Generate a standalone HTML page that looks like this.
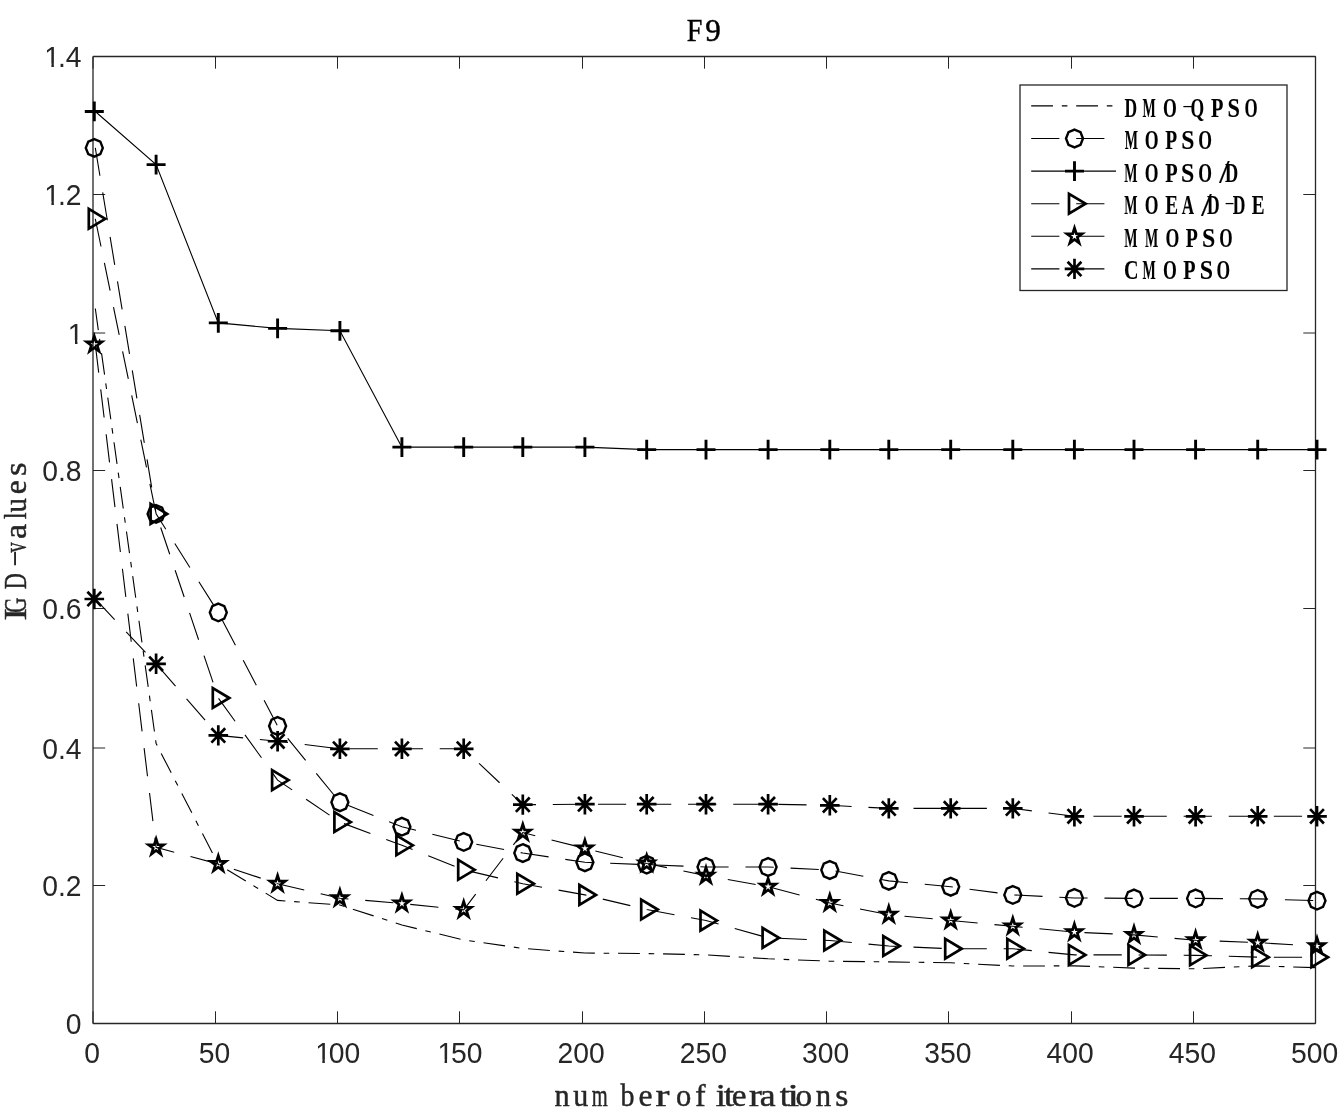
<!DOCTYPE html>
<html><head><meta charset="utf-8"><style>html,body{margin:0;padding:0;background:#fff;overflow:hidden}svg{display:block}</style></head><body>
<svg width="1344" height="1118" viewBox="0 0 1344 1118">
<rect x="0" y="0" width="1344" height="1118" fill="#fff"/>
<g fill="none" stroke="#262626" stroke-width="1.3">
<path d="M93.0 1023.5H1315.5M93.0 56.5H1315.5"/>
<path d="M93.0 1023.5V56.5M1315.5 1023.5V56.5"/>
</g>
<path d="M93.00 1023.5V1011.30M93.00 56.5V68.70M215.50 1023.5V1011.30M215.50 56.5V68.70M337.50 1023.5V1011.30M337.50 56.5V68.70M459.50 1023.5V1011.30M459.50 56.5V68.70M582.50 1023.5V1011.30M582.50 56.5V68.70M704.50 1023.5V1011.30M704.50 56.5V68.70M826.50 1023.5V1011.30M826.50 56.5V68.70M948.50 1023.5V1011.30M948.50 56.5V68.70M1071.50 1023.5V1011.30M1071.50 56.5V68.70M1193.50 1023.5V1011.30M1193.50 56.5V68.70M1315.50 1023.5V1011.30M1315.50 56.5V68.70M93.0 1023.50H105.20M1315.5 1023.50H1303.30M93.0 885.50H105.20M1315.5 885.50H1303.30M93.0 748.00H105.20M1315.5 748.00H1303.30M93.0 608.50H105.20M1315.5 608.50H1303.30M93.0 470.50H105.20M1315.5 470.50H1303.30M93.0 333.00H105.20M1315.5 333.00H1303.30M93.0 194.50H105.20M1315.5 194.50H1303.30M93.0 56.50H105.20M1315.5 56.50H1303.30" fill="none" stroke="#262626" stroke-width="1"/>
<g font-family="Liberation Sans, Arial, sans-serif" font-size="28.3" fill="#262626">
<text x="84.33" y="0" transform="translate(0,1062.80) scale(1,1.045)">0</text>
<text x="198.71 214.45" y="0" transform="translate(0,1062.80) scale(1,1.045)">50</text>
<clipPath id="t1"><rect x="308.09" y="1022.80" width="57.22" height="36.59"/><rect x="322.31" y="1058.39" width="2.50" height="4.91"/><rect x="308.09" y="1058.39" width="8.46" height="11.41"/><rect x="330.35" y="1058.39" width="34.96" height="11.41"/></clipPath><g clip-path="url(#t1)"><text x="315.19 328.83 344.57" y="0" transform="translate(0,1062.80) scale(1,1.045)">100</text></g>
<clipPath id="t2"><rect x="430.34" y="1022.80" width="57.22" height="36.59"/><rect x="444.56" y="1058.39" width="2.50" height="4.91"/><rect x="430.34" y="1058.39" width="8.46" height="11.41"/><rect x="452.60" y="1058.39" width="34.96" height="11.41"/></clipPath><g clip-path="url(#t2)"><text x="437.44 451.08 466.82" y="0" transform="translate(0,1062.80) scale(1,1.045)">150</text></g>
<text x="557.59 573.33 589.07" y="0" transform="translate(0,1062.80) scale(1,1.045)">200</text>
<text x="679.84 695.58 711.32" y="0" transform="translate(0,1062.80) scale(1,1.045)">250</text>
<text x="802.09 817.83 833.57" y="0" transform="translate(0,1062.80) scale(1,1.045)">300</text>
<text x="924.34 940.08 955.82" y="0" transform="translate(0,1062.80) scale(1,1.045)">350</text>
<text x="1046.59 1062.33 1078.07" y="0" transform="translate(0,1062.80) scale(1,1.045)">400</text>
<text x="1168.84 1184.58 1200.32" y="0" transform="translate(0,1062.80) scale(1,1.045)">450</text>
<text x="1291.09 1306.83 1322.57" y="0" transform="translate(0,1062.80) scale(1,1.045)">500</text>
<text x="65.76" y="0" transform="translate(0,1034.00) scale(1,1.045)">0</text>
<text x="42.16 57.90 65.76" y="0" transform="translate(0,896.00) scale(1,1.045)">0.2</text>
<text x="42.16 57.90 65.76" y="0" transform="translate(0,758.50) scale(1,1.045)">0.4</text>
<text x="42.16 57.90 65.76" y="0" transform="translate(0,619.00) scale(1,1.045)">0.6</text>
<text x="42.16 57.90 65.76" y="0" transform="translate(0,481.00) scale(1,1.045)">0.8</text>
<clipPath id="t3"><rect x="60.76" y="303.50" width="25.74" height="36.59"/><rect x="74.98" y="339.09" width="2.50" height="4.91"/><rect x="60.76" y="339.09" width="8.46" height="11.41"/><rect x="83.02" y="339.09" width="3.48" height="11.41"/></clipPath><g clip-path="url(#t3)"><text x="67.86" y="0" transform="translate(0,343.50) scale(1,1.045)">1</text></g>
<clipPath id="t4"><rect x="37.16" y="165.00" width="49.34" height="36.59"/><rect x="51.38" y="200.59" width="2.50" height="4.91"/><rect x="37.16" y="200.59" width="8.46" height="11.41"/><rect x="59.42" y="200.59" width="27.08" height="11.41"/></clipPath><g clip-path="url(#t4)"><text x="44.26 57.90 65.76" y="0" transform="translate(0,205.00) scale(1,1.045)">1.2</text></g>
<clipPath id="t5"><rect x="37.16" y="27.00" width="49.34" height="36.59"/><rect x="51.38" y="62.59" width="2.50" height="4.91"/><rect x="37.16" y="62.59" width="8.46" height="11.41"/><rect x="59.42" y="62.59" width="27.08" height="11.41"/></clipPath><g clip-path="url(#t5)"><text x="44.26 57.90 65.76" y="0" transform="translate(0,67.00) scale(1,1.045)">1.4</text></g>
</g>
<clipPath id="c"><rect x="93.0" y="56.5" width="1222.5" height="967.0"/></clipPath>
<g clip-path="url(#c)" fill="none" stroke="#000" stroke-linejoin="miter">
<polyline points="95.30,308.47 156.10,743.48 218.30,864.29 277.60,900.41 339.90,904.97 401.90,925.00 463.70,939.99 522.80,948.42 584.90,953.05 646.70,953.53 706.00,954.91 768.10,958.78 829.80,961.20 888.80,961.89 950.70,962.79 1012.80,966.03 1074.40,965.83 1134.00,968.10 1195.60,968.80 1257.70,965.83 1317.00,967.69" stroke-width="1.1" stroke-dasharray="21.819 8.808 5.605 8.808"/>
<polyline points="95.30,147.88 156.10,513.89 218.30,612.46 277.60,726.01 339.90,802.26 401.90,826.72 463.70,841.91 522.80,853.03 584.90,862.29 646.70,864.70 706.00,866.98 768.10,866.98 829.80,870.02 888.80,880.87 950.70,886.74 1012.80,894.89 1074.40,897.93 1134.00,898.41 1195.60,898.41 1257.70,898.83 1317.00,900.69" stroke-width="1.1" stroke-dasharray="28.275 16.845"/>
<polyline points="95.30,111.48 156.10,164.67 218.30,322.91 277.60,328.37 339.90,330.78 401.90,447.17 463.70,447.17 522.80,447.17 584.90,447.17 646.70,449.59 706.00,449.59 768.10,449.59 829.80,449.59 888.80,449.59 950.70,449.59 1012.80,449.59 1074.40,449.59 1134.00,449.59 1195.60,449.59 1257.70,449.59 1317.00,449.59" stroke-width="1.1"/>
<polyline points="95.30,218.82 156.10,513.89 218.30,697.97 277.60,780.09 339.90,822.09 401.90,845.30 463.70,869.82 522.80,883.70 584.90,894.89 646.70,909.53 706.00,920.58 768.10,937.85 829.80,940.48 888.80,946.00 950.70,948.76 1012.80,948.76 1074.40,954.91 1134.00,954.91 1195.60,955.33 1257.70,957.19 1317.00,957.19" stroke-width="1.1" stroke-dasharray="28.256 16.834"/>
<polyline points="95.30,344.53 156.10,847.30 218.30,864.01 277.60,883.77 339.90,898.27 401.90,903.52 463.70,909.81 522.80,832.59 584.90,848.40 646.70,863.53 706.00,875.62 768.10,886.74 829.80,902.97 888.80,914.71 950.70,920.51 1012.80,926.32 1074.40,932.12 1134.00,934.88 1195.60,940.20 1257.70,942.62 1317.00,946.14" stroke-width="1.1" stroke-dasharray="28.307 16.863"/>
<polyline points="95.30,598.99 156.10,663.78 218.30,735.40 277.60,741.27 339.90,748.80 401.90,748.80 463.70,748.80 522.80,804.68 584.90,804.20 646.70,804.20 706.00,804.20 768.10,804.20 829.80,805.30 888.80,808.41 950.70,808.41 1012.80,808.41 1074.40,816.29 1134.00,816.29 1195.60,816.29 1257.70,816.29 1317.00,816.29" stroke-width="1.1" stroke-dasharray="28.263 16.837"/>
</g>
<g fill="none" stroke="#000" stroke-width="2.4">
<polygon points="94.30,139.04 100.31,141.63 102.80,147.88 100.31,154.13 94.30,156.72 88.29,154.13 85.80,147.88 88.29,141.63"/>
<polygon points="156.10,505.05 162.11,507.64 164.60,513.89 162.11,520.14 156.10,522.73 150.09,520.14 147.60,513.89 150.09,507.64"/>
<polygon points="218.30,603.62 224.31,606.21 226.80,612.46 224.31,618.71 218.30,621.30 212.29,618.71 209.80,612.46 212.29,606.21"/>
<polygon points="277.60,717.17 283.61,719.76 286.10,726.01 283.61,732.26 277.60,734.85 271.59,732.26 269.10,726.01 271.59,719.76"/>
<polygon points="339.90,793.42 345.91,796.01 348.40,802.26 345.91,808.52 339.90,811.10 333.89,808.52 331.40,802.26 333.89,796.01"/>
<polygon points="401.90,817.88 407.91,820.46 410.40,826.72 407.91,832.97 401.90,835.56 395.89,832.97 393.40,826.72 395.89,820.46"/>
<polygon points="463.70,833.07 469.71,835.66 472.20,841.91 469.71,848.16 463.70,850.75 457.69,848.16 455.20,841.91 457.69,835.66"/>
<polygon points="522.80,844.19 528.81,846.78 531.30,853.03 528.81,859.28 522.80,861.87 516.79,859.28 514.30,853.03 516.79,846.78"/>
<polygon points="584.90,853.45 590.91,856.04 593.40,862.29 590.91,868.54 584.90,871.13 578.89,868.54 576.40,862.29 578.89,856.04"/>
<polygon points="646.70,855.86 652.71,858.45 655.20,864.70 652.71,870.96 646.70,873.54 640.69,870.96 638.20,864.70 640.69,858.45"/>
<polygon points="706.00,858.14 712.01,860.73 714.50,866.98 712.01,873.23 706.00,875.82 699.99,873.23 697.50,866.98 699.99,860.73"/>
<polygon points="768.10,858.14 774.11,860.73 776.60,866.98 774.11,873.23 768.10,875.82 762.09,873.23 759.60,866.98 762.09,860.73"/>
<polygon points="829.80,861.18 835.81,863.77 838.30,870.02 835.81,876.27 829.80,878.86 823.79,876.27 821.30,870.02 823.79,863.77"/>
<polygon points="888.80,872.03 894.81,874.62 897.30,880.87 894.81,887.12 888.80,889.71 882.79,887.12 880.30,880.87 882.79,874.62"/>
<polygon points="950.70,877.90 956.71,880.49 959.20,886.74 956.71,892.99 950.70,895.58 944.69,892.99 942.20,886.74 944.69,880.49"/>
<polygon points="1012.80,886.05 1018.81,888.64 1021.30,894.89 1018.81,901.14 1012.80,903.73 1006.79,901.14 1004.30,894.89 1006.79,888.64"/>
<polygon points="1074.40,889.09 1080.41,891.68 1082.90,897.93 1080.41,904.18 1074.40,906.77 1068.39,904.18 1065.90,897.93 1068.39,891.68"/>
<polygon points="1134.00,889.57 1140.01,892.16 1142.50,898.41 1140.01,904.66 1134.00,907.25 1127.99,904.66 1125.50,898.41 1127.99,892.16"/>
<polygon points="1195.60,889.57 1201.61,892.16 1204.10,898.41 1201.61,904.66 1195.60,907.25 1189.59,904.66 1187.10,898.41 1189.59,892.16"/>
<polygon points="1257.70,889.99 1263.71,892.58 1266.20,898.83 1263.71,905.08 1257.70,907.67 1251.69,905.08 1249.20,898.83 1251.69,892.58"/>
<polygon points="1317.00,891.85 1323.01,894.44 1325.50,900.69 1323.01,906.94 1317.00,909.53 1310.99,906.94 1308.50,900.69 1310.99,894.44"/>
<path stroke-width="2.9" d="M84.80 111.48H103.80M94.30 101.60V121.36"/>
<path stroke-width="2.9" d="M146.60 164.67H165.60M156.10 154.79V174.55"/>
<path stroke-width="2.9" d="M208.80 322.91H227.80M218.30 313.03V332.79"/>
<path stroke-width="2.9" d="M268.10 328.37H287.10M277.60 318.49V338.25"/>
<path stroke-width="2.9" d="M330.40 330.78H349.40M339.90 320.90V340.66"/>
<path stroke-width="2.9" d="M392.40 447.17H411.40M401.90 437.29V457.05"/>
<path stroke-width="2.9" d="M454.20 447.17H473.20M463.70 437.29V457.05"/>
<path stroke-width="2.9" d="M513.30 447.17H532.30M522.80 437.29V457.05"/>
<path stroke-width="2.9" d="M575.40 447.17H594.40M584.90 437.29V457.05"/>
<path stroke-width="2.9" d="M637.20 449.59H656.20M646.70 439.71V459.47"/>
<path stroke-width="2.9" d="M696.50 449.59H715.50M706.00 439.71V459.47"/>
<path stroke-width="2.9" d="M758.60 449.59H777.60M768.10 439.71V459.47"/>
<path stroke-width="2.9" d="M820.30 449.59H839.30M829.80 439.71V459.47"/>
<path stroke-width="2.9" d="M879.30 449.59H898.30M888.80 439.71V459.47"/>
<path stroke-width="2.9" d="M941.20 449.59H960.20M950.70 439.71V459.47"/>
<path stroke-width="2.9" d="M1003.30 449.59H1022.30M1012.80 439.71V459.47"/>
<path stroke-width="2.9" d="M1064.90 449.59H1083.90M1074.40 439.71V459.47"/>
<path stroke-width="2.9" d="M1124.50 449.59H1143.50M1134.00 439.71V459.47"/>
<path stroke-width="2.9" d="M1186.10 449.59H1205.10M1195.60 439.71V459.47"/>
<path stroke-width="2.9" d="M1248.20 449.59H1267.20M1257.70 439.71V459.47"/>
<path stroke-width="2.9" d="M1307.50 449.59H1326.50M1317.00 439.71V459.47"/>
<polygon stroke-width="2.6999999999999997" points="105.30,218.82 88.80,208.91 88.80,228.72"/>
<polygon stroke-width="2.6999999999999997" points="167.10,513.89 150.60,503.98 150.60,523.80"/>
<polygon stroke-width="2.6999999999999997" points="229.30,697.97 212.80,688.06 212.80,707.87"/>
<polygon stroke-width="2.6999999999999997" points="288.60,780.09 272.10,770.19 272.10,790.00"/>
<polygon stroke-width="2.6999999999999997" points="350.90,822.09 334.40,812.18 334.40,831.99"/>
<polygon stroke-width="2.6999999999999997" points="412.90,845.30 396.40,835.39 396.40,855.20"/>
<polygon stroke-width="2.6999999999999997" points="474.70,869.82 458.20,859.91 458.20,879.72"/>
<polygon stroke-width="2.6999999999999997" points="533.80,883.70 517.30,873.79 517.30,893.61"/>
<polygon stroke-width="2.6999999999999997" points="595.90,894.89 579.40,884.98 579.40,904.80"/>
<polygon stroke-width="2.6999999999999997" points="657.70,909.53 641.20,899.63 641.20,919.44"/>
<polygon stroke-width="2.6999999999999997" points="717.00,920.58 700.50,910.68 700.50,930.49"/>
<polygon stroke-width="2.6999999999999997" points="779.10,937.85 762.60,927.94 762.60,947.76"/>
<polygon stroke-width="2.6999999999999997" points="840.80,940.48 824.30,930.57 824.30,950.38"/>
<polygon stroke-width="2.6999999999999997" points="899.80,946.00 883.30,936.09 883.30,955.91"/>
<polygon stroke-width="2.6999999999999997" points="961.70,948.76 945.20,938.86 945.20,958.67"/>
<polygon stroke-width="2.6999999999999997" points="1023.80,948.76 1007.30,938.86 1007.30,958.67"/>
<polygon stroke-width="2.6999999999999997" points="1085.40,954.91 1068.90,945.01 1068.90,964.82"/>
<polygon stroke-width="2.6999999999999997" points="1145.00,954.91 1128.50,945.01 1128.50,964.82"/>
<polygon stroke-width="2.6999999999999997" points="1206.60,955.33 1190.10,945.42 1190.10,965.23"/>
<polygon stroke-width="2.6999999999999997" points="1268.70,957.19 1252.20,947.28 1252.20,967.10"/>
<polygon stroke-width="2.6999999999999997" points="1328.00,957.19 1311.50,947.28 1311.50,967.10"/>
<polygon stroke-width="2.6999999999999997" points="94.30,336.21 96.10,341.96 101.91,341.96 97.21,345.51 99.00,351.26 94.30,347.71 89.60,351.26 91.39,345.51 86.69,341.96 92.50,341.96"/>
<polygon stroke-width="2.6999999999999997" points="156.10,838.98 157.90,844.73 163.71,844.73 159.01,848.28 160.80,854.03 156.10,850.48 151.40,854.03 153.19,848.28 148.49,844.73 154.30,844.73"/>
<polygon stroke-width="2.6999999999999997" points="218.30,855.69 220.10,861.44 225.91,861.44 221.21,865.00 223.00,870.75 218.30,867.19 213.60,870.75 215.39,865.00 210.69,861.44 216.50,861.44"/>
<polygon stroke-width="2.6999999999999997" points="277.60,875.45 279.40,881.20 285.21,881.20 280.51,884.75 282.30,890.50 277.60,886.95 272.90,890.50 274.69,884.75 269.99,881.20 275.80,881.20"/>
<polygon stroke-width="2.6999999999999997" points="339.90,889.95 341.70,895.70 347.51,895.70 342.81,899.26 344.60,905.00 339.90,901.45 335.20,905.00 336.99,899.26 332.29,895.70 338.10,895.70"/>
<polygon stroke-width="2.6999999999999997" points="401.90,895.20 403.70,900.95 409.51,900.95 404.81,904.51 406.60,910.25 401.90,906.70 397.20,910.25 398.99,904.51 394.29,900.95 400.10,900.95"/>
<polygon stroke-width="2.6999999999999997" points="463.70,901.49 465.50,907.24 471.31,907.24 466.61,910.79 468.40,916.54 463.70,912.99 459.00,916.54 460.79,910.79 456.09,907.24 461.90,907.24"/>
<polygon stroke-width="2.6999999999999997" points="522.80,824.27 524.60,830.02 530.41,830.02 525.71,833.57 527.50,839.32 522.80,835.76 518.10,839.32 519.89,833.57 515.19,830.02 521.00,830.02"/>
<polygon stroke-width="2.6999999999999997" points="584.90,840.08 586.70,845.83 592.51,845.83 587.81,849.39 589.60,855.13 584.90,851.58 580.20,855.13 581.99,849.39 577.29,845.83 583.10,845.83"/>
<polygon stroke-width="2.6999999999999997" points="646.70,855.21 648.50,860.96 654.31,860.96 649.61,864.51 651.40,870.26 646.70,866.71 642.00,870.26 643.79,864.51 639.09,860.96 644.90,860.96"/>
<polygon stroke-width="2.6999999999999997" points="706.00,867.30 707.80,873.05 713.61,873.05 708.91,876.60 710.70,882.35 706.00,878.80 701.30,882.35 703.09,876.60 698.39,873.05 704.20,873.05"/>
<polygon stroke-width="2.6999999999999997" points="768.10,878.42 769.90,884.17 775.71,884.17 771.01,887.72 772.80,893.47 768.10,889.92 763.40,893.47 765.19,887.72 760.49,884.17 766.30,884.17"/>
<polygon stroke-width="2.6999999999999997" points="829.80,894.65 831.60,900.40 837.41,900.40 832.71,903.95 834.50,909.70 829.80,906.15 825.10,909.70 826.89,903.95 822.19,900.40 828.00,900.40"/>
<polygon stroke-width="2.6999999999999997" points="888.80,906.39 890.60,912.14 896.41,912.14 891.71,915.69 893.50,921.44 888.80,917.89 884.10,921.44 885.89,915.69 881.19,912.14 887.00,912.14"/>
<polygon stroke-width="2.6999999999999997" points="950.70,912.19 952.50,917.94 958.31,917.94 953.61,921.50 955.40,927.25 950.70,923.69 946.00,927.25 947.79,921.50 943.09,917.94 948.90,917.94"/>
<polygon stroke-width="2.6999999999999997" points="1012.80,918.00 1014.60,923.75 1020.41,923.75 1015.71,927.30 1017.50,933.05 1012.80,929.49 1008.10,933.05 1009.89,927.30 1005.19,923.75 1011.00,923.75"/>
<polygon stroke-width="2.6999999999999997" points="1074.40,923.80 1076.20,929.55 1082.01,929.55 1077.31,933.10 1079.10,938.85 1074.40,935.30 1069.70,938.85 1071.49,933.10 1066.79,929.55 1072.60,929.55"/>
<polygon stroke-width="2.6999999999999997" points="1134.00,926.56 1135.80,932.31 1141.61,932.31 1136.91,935.86 1138.70,941.61 1134.00,938.06 1129.30,941.61 1131.09,935.86 1126.39,932.31 1132.20,932.31"/>
<polygon stroke-width="2.6999999999999997" points="1195.60,931.88 1197.40,937.63 1203.21,937.63 1198.51,941.18 1200.30,946.93 1195.60,943.38 1190.90,946.93 1192.69,941.18 1187.99,937.63 1193.80,937.63"/>
<polygon stroke-width="2.6999999999999997" points="1257.70,934.30 1259.50,940.05 1265.31,940.05 1260.61,943.60 1262.40,949.35 1257.70,945.80 1253.00,949.35 1254.79,943.60 1250.09,940.05 1255.90,940.05"/>
<polygon stroke-width="2.6999999999999997" points="1317.00,937.82 1318.80,943.57 1324.61,943.57 1319.91,947.12 1321.70,952.87 1317.00,949.32 1312.30,952.87 1314.09,947.12 1309.39,943.57 1315.20,943.57"/>
<path stroke-width="2.6999999999999997" d="M84.50 598.99H104.10M94.30 588.79V609.18M87.40 591.81L101.20 606.16M87.40 606.16L101.20 591.81"/>
<path stroke-width="2.6999999999999997" d="M146.30 663.78H165.90M156.10 653.58V673.97M149.20 656.60L163.00 670.95M149.20 670.95L163.00 656.60"/>
<path stroke-width="2.6999999999999997" d="M208.50 735.40H228.10M218.30 725.21V745.60M211.40 728.23L225.20 742.58M211.40 742.58L225.20 728.23"/>
<path stroke-width="2.6999999999999997" d="M267.80 741.27H287.40M277.60 731.08V751.47M270.70 734.10L284.50 748.45M270.70 748.45L284.50 734.10"/>
<path stroke-width="2.6999999999999997" d="M330.10 748.80H349.70M339.90 738.61V758.99M333.00 741.63L346.80 755.98M333.00 755.98L346.80 741.63"/>
<path stroke-width="2.6999999999999997" d="M392.10 748.80H411.70M401.90 738.61V758.99M395.00 741.63L408.80 755.98M395.00 755.98L408.80 741.63"/>
<path stroke-width="2.6999999999999997" d="M453.90 748.80H473.50M463.70 738.61V758.99M456.80 741.63L470.60 755.98M456.80 755.98L470.60 741.63"/>
<path stroke-width="2.6999999999999997" d="M513.00 804.68H532.60M522.80 794.49V814.87M515.90 797.51L529.70 811.86M515.90 811.86L529.70 797.51"/>
<path stroke-width="2.6999999999999997" d="M575.10 804.20H594.70M584.90 794.01V814.39M578.00 797.02L591.80 811.37M578.00 811.37L591.80 797.02"/>
<path stroke-width="2.6999999999999997" d="M636.90 804.20H656.50M646.70 794.01V814.39M639.80 797.02L653.60 811.37M639.80 811.37L653.60 797.02"/>
<path stroke-width="2.6999999999999997" d="M696.20 804.20H715.80M706.00 794.01V814.39M699.10 797.02L712.90 811.37M699.10 811.37L712.90 797.02"/>
<path stroke-width="2.6999999999999997" d="M758.30 804.20H777.90M768.10 794.01V814.39M761.20 797.02L775.00 811.37M761.20 811.37L775.00 797.02"/>
<path stroke-width="2.6999999999999997" d="M820.00 805.30H839.60M829.80 795.11V815.50M822.90 798.13L836.70 812.48M822.90 812.48L836.70 798.13"/>
<path stroke-width="2.6999999999999997" d="M879.00 808.41H898.60M888.80 798.22V818.60M881.90 801.24L895.70 815.59M881.90 815.59L895.70 801.24"/>
<path stroke-width="2.6999999999999997" d="M940.90 808.41H960.50M950.70 798.22V818.60M943.80 801.24L957.60 815.59M943.80 815.59L957.60 801.24"/>
<path stroke-width="2.6999999999999997" d="M1003.00 808.41H1022.60M1012.80 798.22V818.60M1005.90 801.24L1019.70 815.59M1005.90 815.59L1019.70 801.24"/>
<path stroke-width="2.6999999999999997" d="M1064.60 816.29H1084.20M1074.40 806.09V826.48M1067.50 809.11L1081.30 823.46M1067.50 823.46L1081.30 809.11"/>
<path stroke-width="2.6999999999999997" d="M1124.20 816.29H1143.80M1134.00 806.09V826.48M1127.10 809.11L1140.90 823.46M1127.10 823.46L1140.90 809.11"/>
<path stroke-width="2.6999999999999997" d="M1185.80 816.29H1205.40M1195.60 806.09V826.48M1188.70 809.11L1202.50 823.46M1188.70 823.46L1202.50 809.11"/>
<path stroke-width="2.6999999999999997" d="M1247.90 816.29H1267.50M1257.70 806.09V826.48M1250.80 809.11L1264.60 823.46M1250.80 823.46L1264.60 809.11"/>
<path stroke-width="2.6999999999999997" d="M1307.20 816.29H1326.80M1317.00 806.09V826.48M1310.10 809.11L1323.90 823.46M1310.10 823.46L1323.90 809.11"/>
</g>
<text font-family="Liberation Serif, serif" fill="#000" stroke="#000" stroke-width="0.45"><tspan x="686.79" y="41.00" font-size="32.30" textLength="15.62" lengthAdjust="spacingAndGlyphs">F</tspan><tspan x="705.30" y="41.00" font-size="32.30" textLength="15.58" lengthAdjust="spacingAndGlyphs">9</tspan></text>
<text font-family="Liberation Serif, serif" fill="#262626" stroke="#262626" stroke-width="0.45"><tspan x="554.50" y="1105.50" font-size="31.50" textLength="15.15" lengthAdjust="spacingAndGlyphs">n</tspan><tspan x="573.20" y="1105.50" font-size="31.50" textLength="15.01" lengthAdjust="spacingAndGlyphs">u</tspan><tspan x="591.67" y="1105.50" font-size="31.50" textLength="15.95" lengthAdjust="spacingAndGlyphs">m</tspan><tspan x="620.60" y="1105.50" font-size="31.50" textLength="13.96" lengthAdjust="spacingAndGlyphs">b</tspan><tspan x="638.47" y="1105.50" font-size="31.50" textLength="14.03" lengthAdjust="spacingAndGlyphs">e</tspan><tspan x="655.56" y="1105.50" font-size="31.50" textLength="14.01" lengthAdjust="spacingAndGlyphs">r</tspan> <tspan x="676.04" y="1105.50" font-size="31.50" textLength="15.22" lengthAdjust="spacingAndGlyphs">o</tspan><tspan x="695.24" y="1105.50" font-size="31.50" textLength="10.36" lengthAdjust="spacingAndGlyphs">f</tspan> <tspan x="715.73" y="1105.50" font-size="31.50" textLength="10.16" lengthAdjust="spacingAndGlyphs">i</tspan><tspan x="723.83" y="1105.50" font-size="31.50" textLength="10.49" lengthAdjust="spacingAndGlyphs">t</tspan><tspan x="731.80" y="1105.50" font-size="31.50" textLength="14.75" lengthAdjust="spacingAndGlyphs">e</tspan><tspan x="749.03" y="1105.50" font-size="31.50" textLength="12.81" lengthAdjust="spacingAndGlyphs">r</tspan><tspan x="759.85" y="1105.50" font-size="31.50" textLength="15.84" lengthAdjust="spacingAndGlyphs">a</tspan><tspan x="779.85" y="1105.50" font-size="31.50" textLength="9.85" lengthAdjust="spacingAndGlyphs">t</tspan><tspan x="787.63" y="1105.50" font-size="31.50" textLength="11.57" lengthAdjust="spacingAndGlyphs">i</tspan><tspan x="795.53" y="1105.50" font-size="31.50" textLength="16.63" lengthAdjust="spacingAndGlyphs">o</tspan><tspan x="815.69" y="1105.50" font-size="31.50" textLength="15.37" lengthAdjust="spacingAndGlyphs">n</tspan><tspan x="835.32" y="1105.50" font-size="31.50" textLength="13.10" lengthAdjust="spacingAndGlyphs">s</tspan></text>
<text transform="rotate(-90)" font-family="Liberation Serif, serif" fill="#262626" stroke="#262626" stroke-width="0.45"><tspan x="-620.44" y="25.60" font-size="32.20" textLength="12.34" lengthAdjust="spacingAndGlyphs">I</tspan><tspan x="-612.66" y="25.60" font-size="32.20" textLength="15.22" lengthAdjust="spacingAndGlyphs">G</tspan><tspan x="-589.34" y="25.60" font-size="32.20" textLength="16.03" lengthAdjust="spacingAndGlyphs">D</tspan><tspan x="-567.24" y="20.58" font-size="25.93" textLength="17.43" lengthAdjust="spacingAndGlyphs" stroke-width="0">-</tspan><tspan x="-552.50" y="25.60" font-size="30.50" textLength="10.10" lengthAdjust="spacingAndGlyphs">v</tspan><tspan x="-538.90" y="25.60" font-size="30.50" textLength="15.17" lengthAdjust="spacingAndGlyphs">a</tspan><tspan x="-518.96" y="25.60" font-size="32.00" textLength="6.43" lengthAdjust="spacingAndGlyphs">l</tspan><tspan x="-512.58" y="25.60" font-size="30.50" textLength="14.37" lengthAdjust="spacingAndGlyphs">u</tspan><tspan x="-494.23" y="25.60" font-size="30.50" textLength="14.03" lengthAdjust="spacingAndGlyphs">e</tspan><tspan x="-476.13" y="25.60" font-size="30.50" textLength="13.60" lengthAdjust="spacingAndGlyphs">s</tspan></text>
<rect x="1020.0" y="85.0" width="267.0" height="205.5" fill="#fff" stroke="#262626" stroke-width="1.3"/>
<path d="M1031.2 105.90H1116" fill="none" stroke="#000" stroke-width="1.1" stroke-dasharray="21.800 8.800 5.600 8.800"/>
<text font-family="Liberation Serif, serif" fill="#000" stroke="#000" stroke-width="0.45"><tspan x="1124.59" y="116.60" font-size="27.30" textLength="12.66" lengthAdjust="spacingAndGlyphs" font-weight="bold" stroke-width="0.1">D</tspan><tspan x="1142.46" y="116.60" font-size="27.30" textLength="13.24" lengthAdjust="spacingAndGlyphs" font-weight="bold" stroke-width="0.1">M</tspan><tspan x="1163.03" y="116.60" font-size="27.30" textLength="13.84" lengthAdjust="spacingAndGlyphs" font-weight="bold" stroke-width="0.1">O</tspan><tspan x="1181.93" y="110.98" font-size="17.75" textLength="12.31" lengthAdjust="spacingAndGlyphs" stroke-width="0">-</tspan><tspan x="1190.44" y="116.60" font-size="27.30" textLength="13.63" lengthAdjust="spacingAndGlyphs" font-weight="bold" stroke-width="0.1">Q</tspan><tspan x="1211.05" y="116.60" font-size="27.30" textLength="12.42" lengthAdjust="spacingAndGlyphs" font-weight="bold" stroke-width="0.1">P</tspan><tspan x="1227.51" y="116.60" font-size="27.30" textLength="12.44" lengthAdjust="spacingAndGlyphs" font-weight="bold" stroke-width="0.1">S</tspan><tspan x="1244.57" y="116.60" font-size="27.30" textLength="13.15" lengthAdjust="spacingAndGlyphs" font-weight="bold" stroke-width="0.1">O</tspan></text>
<path d="M1031.2 138.50H1116" fill="none" stroke="#000" stroke-width="1.1" stroke-dasharray="28.200 16.800"/>
<g fill="none" stroke="#000" stroke-width="2.4"><polygon points="1074.50,129.66 1080.51,132.25 1083.00,138.50 1080.51,144.75 1074.50,147.34 1068.49,144.75 1066.00,138.50 1068.49,132.25"/></g>
<text font-family="Liberation Serif, serif" fill="#000" stroke="#000" stroke-width="0.45"><tspan x="1124.66" y="149.08" font-size="27.30" textLength="13.24" lengthAdjust="spacingAndGlyphs" font-weight="bold" stroke-width="0.1">M</tspan><tspan x="1144.63" y="149.08" font-size="27.30" textLength="13.84" lengthAdjust="spacingAndGlyphs" font-weight="bold" stroke-width="0.1">O</tspan><tspan x="1165.27" y="149.08" font-size="27.30" textLength="11.88" lengthAdjust="spacingAndGlyphs" font-weight="bold" stroke-width="0.1">P</tspan><tspan x="1181.14" y="149.08" font-size="27.30" textLength="13.17" lengthAdjust="spacingAndGlyphs" font-weight="bold" stroke-width="0.1">S</tspan><tspan x="1198.24" y="149.08" font-size="27.30" textLength="13.72" lengthAdjust="spacingAndGlyphs" font-weight="bold" stroke-width="0.1">O</tspan></text>
<path d="M1031.2 171.10H1116" fill="none" stroke="#000" stroke-width="1.1"/>
<g fill="none" stroke="#000" stroke-width="2.4"><path stroke-width="2.9" d="M1065.00 171.10H1084.00M1074.50 161.22V180.98"/></g>
<text font-family="Liberation Serif, serif" fill="#000" stroke="#000" stroke-width="0.45"><tspan x="1124.36" y="181.56" font-size="27.30" textLength="13.24" lengthAdjust="spacingAndGlyphs" font-weight="bold" stroke-width="0.1">M</tspan><tspan x="1144.64" y="181.56" font-size="27.30" textLength="13.72" lengthAdjust="spacingAndGlyphs" font-weight="bold" stroke-width="0.1">O</tspan><tspan x="1165.25" y="181.56" font-size="27.30" textLength="12.42" lengthAdjust="spacingAndGlyphs" font-weight="bold" stroke-width="0.1">P</tspan><tspan x="1181.03" y="181.56" font-size="27.30" textLength="13.29" lengthAdjust="spacingAndGlyphs" font-weight="bold" stroke-width="0.1">S</tspan><tspan x="1198.24" y="181.56" font-size="27.30" textLength="13.72" lengthAdjust="spacingAndGlyphs" font-weight="bold" stroke-width="0.1">O</tspan><tspan x="1219.00" y="183.06" font-size="32.76" textLength="10.70" lengthAdjust="spacingAndGlyphs" stroke-width="0.15">/</tspan><tspan x="1224.98" y="181.56" font-size="27.30" textLength="13.22" lengthAdjust="spacingAndGlyphs" font-weight="bold" stroke-width="0.1">D</tspan></text>
<path d="M1031.2 203.70H1116" fill="none" stroke="#000" stroke-width="1.1" stroke-dasharray="28.200 16.800"/>
<g fill="none" stroke="#000" stroke-width="2.4"><polygon stroke-width="2.6999999999999997" points="1085.50,203.70 1069.00,193.79 1069.00,213.61"/></g>
<text font-family="Liberation Serif, serif" fill="#000" stroke="#000" stroke-width="0.45"><tspan x="1124.36" y="214.04" font-size="27.30" textLength="13.24" lengthAdjust="spacingAndGlyphs" font-weight="bold" stroke-width="0.1">M</tspan><tspan x="1144.64" y="214.04" font-size="27.30" textLength="13.72" lengthAdjust="spacingAndGlyphs" font-weight="bold" stroke-width="0.1">O</tspan><tspan x="1165.27" y="214.04" font-size="27.30" textLength="12.81" lengthAdjust="spacingAndGlyphs" font-weight="bold" stroke-width="0.1">E</tspan><tspan x="1181.63" y="214.04" font-size="27.30" textLength="12.29" lengthAdjust="spacingAndGlyphs" font-weight="bold" stroke-width="0.1">A</tspan><tspan x="1201.10" y="215.54" font-size="32.76" textLength="10.80" lengthAdjust="spacingAndGlyphs" stroke-width="0.15">/</tspan><tspan x="1207.09" y="214.04" font-size="27.30" textLength="12.66" lengthAdjust="spacingAndGlyphs" font-weight="bold" stroke-width="0.1">D</tspan><tspan x="1224.57" y="208.42" font-size="17.75" textLength="10.13" lengthAdjust="spacingAndGlyphs" stroke-width="0">-</tspan><tspan x="1232.79" y="214.04" font-size="27.30" textLength="12.66" lengthAdjust="spacingAndGlyphs" font-weight="bold" stroke-width="0.1">D</tspan><tspan x="1251.77" y="214.04" font-size="27.30" textLength="12.81" lengthAdjust="spacingAndGlyphs" font-weight="bold" stroke-width="0.1">E</tspan></text>
<path d="M1031.2 236.30H1116" fill="none" stroke="#000" stroke-width="1.1" stroke-dasharray="28.200 16.800"/>
<g fill="none" stroke="#000" stroke-width="2.4"><polygon stroke-width="2.6999999999999997" points="1074.50,227.98 1076.30,233.73 1082.11,233.73 1077.41,237.28 1079.20,243.03 1074.50,239.48 1069.80,243.03 1071.59,237.28 1066.89,233.73 1072.70,233.73"/></g>
<text font-family="Liberation Serif, serif" fill="#000" stroke="#000" stroke-width="0.45"><tspan x="1124.36" y="246.52" font-size="27.30" textLength="13.24" lengthAdjust="spacingAndGlyphs" font-weight="bold" stroke-width="0.1">M</tspan><tspan x="1144.96" y="246.52" font-size="27.30" textLength="13.24" lengthAdjust="spacingAndGlyphs" font-weight="bold" stroke-width="0.1">M</tspan><tspan x="1165.53" y="246.52" font-size="27.30" textLength="13.84" lengthAdjust="spacingAndGlyphs" font-weight="bold" stroke-width="0.1">O</tspan><tspan x="1185.66" y="246.52" font-size="27.30" textLength="12.10" lengthAdjust="spacingAndGlyphs" font-weight="bold" stroke-width="0.1">P</tspan><tspan x="1201.93" y="246.52" font-size="27.30" textLength="13.29" lengthAdjust="spacingAndGlyphs" font-weight="bold" stroke-width="0.1">S</tspan><tspan x="1219.26" y="246.52" font-size="27.30" textLength="13.38" lengthAdjust="spacingAndGlyphs" font-weight="bold" stroke-width="0.1">O</tspan></text>
<path d="M1031.2 268.90H1116" fill="none" stroke="#000" stroke-width="1.1" stroke-dasharray="28.200 16.800"/>
<g fill="none" stroke="#000" stroke-width="2.4"><path stroke-width="2.6999999999999997" d="M1064.70 268.90H1084.30M1074.50 258.71V279.09M1067.60 261.72L1081.40 276.08M1067.60 276.08L1081.40 261.72"/></g>
<text font-family="Liberation Serif, serif" fill="#000" stroke="#000" stroke-width="0.45"><tspan x="1123.92" y="279.00" font-size="27.30" textLength="14.51" lengthAdjust="spacingAndGlyphs" font-weight="bold" stroke-width="0.1">C</tspan><tspan x="1142.46" y="279.00" font-size="27.30" textLength="13.24" lengthAdjust="spacingAndGlyphs" font-weight="bold" stroke-width="0.1">M</tspan><tspan x="1163.03" y="279.00" font-size="27.30" textLength="13.84" lengthAdjust="spacingAndGlyphs" font-weight="bold" stroke-width="0.1">O</tspan><tspan x="1183.16" y="279.00" font-size="27.30" textLength="12.32" lengthAdjust="spacingAndGlyphs" font-weight="bold" stroke-width="0.1">P</tspan><tspan x="1199.73" y="279.00" font-size="27.30" textLength="13.29" lengthAdjust="spacingAndGlyphs" font-weight="bold" stroke-width="0.1">S</tspan><tspan x="1216.45" y="279.00" font-size="27.30" textLength="13.61" lengthAdjust="spacingAndGlyphs" font-weight="bold" stroke-width="0.1">O</tspan></text>
</svg>
</body></html>
